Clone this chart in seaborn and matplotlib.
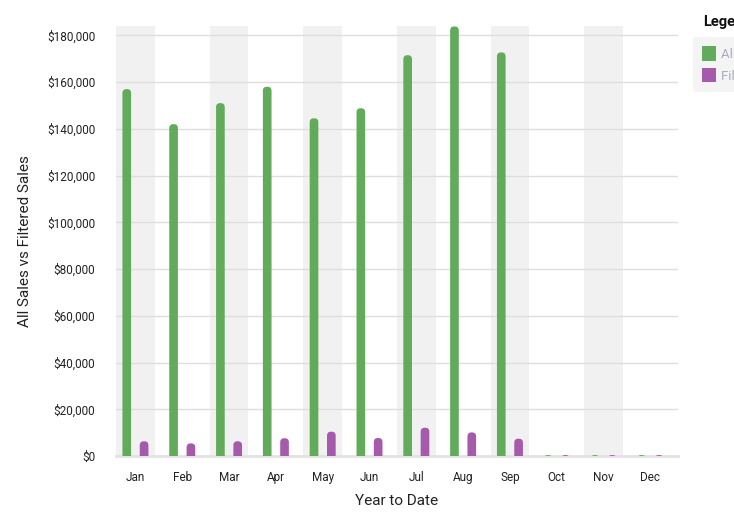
import matplotlib
matplotlib.use("Agg")
import matplotlib.pyplot as plt
import seaborn as sns
import pandas as pd
from matplotlib.patches import FancyBboxPatch, Patch
from matplotlib.ticker import FuncFormatter

months = ["Jan", "Feb", "Mar", "Apr", "May", "Jun", "Jul", "Aug", "Sep", "Oct", "Nov", "Dec"]
all_sales = [157000, 142000, 151000, 158000, 144500, 148800, 171500, 183800, 172700, 400, 400, 400]
filtered_sales = [6300, 5400, 6300, 7600, 10400, 7700, 12100, 10100, 7400, 400, 400, 400]
series_names = ["All Sales", "Filtered Sales"]
colors = ["#62ab5a", "#a55aab"]

df = pd.DataFrame({
    "Month": months * 2,
    "Sales": all_sales + filtered_sales,
    "Series": [series_names[0]] * 12 + [series_names[1]] * 12,
})

sns.set_theme(style="white")
plt.rcParams["font.family"] = ["Roboto", "DejaVu Sans"]

fig = plt.figure(figsize=(7.34, 5.12), dpi=100)
ax = fig.add_axes([116 / 734, 1 - 456 / 512, (678 - 116) / 734, (456 - 26) / 512])

sns.barplot(data=df, x="Month", y="Sales", hue="Series", palette=colors,
            width=0.74, gap=0.5, ax=ax, legend=False, saturation=1)

ax.set_xlim(-0.415, 11.59)
ax.set_ylim(0, 184000)

# rounded top bars
px_x = (11.59 + 0.415) / (678 - 116)
px_y = 184000 / (456 - 26)
bars = list(ax.patches)
for b in bars:
    x, w, h = b.get_x(), b.get_width(), b.get_height()
    fc = b.get_facecolor()
    b.remove()
    r = min(4 * px_x, w / 2)
    pad = r * (px_y / px_x)
    fp = FancyBboxPatch((x, -pad), w, h + pad,
                        boxstyle=f"round,pad=0,rounding_size={r}",
                        mutation_aspect=px_y / px_x,
                        facecolor=fc, edgecolor="none", zorder=3)
    ax.add_patch(fp)

# alternating shading
for i in range(0, 12, 2):
    ax.axvspan(i - 0.415, i + 0.415, color="#f1f1f1", zorder=0, lw=0)

ax.set_yticks(range(0, 180001, 20000))
ax.yaxis.set_major_formatter(FuncFormatter(lambda v, p: f"${int(v):,}"))
ax.grid(axis="y", color="#dedede", lw=1, zorder=1)
ax.set_axisbelow(True)
for s in ["top", "right", "left"]:
    ax.spines[s].set_visible(False)
ax.spines["bottom"].set_color("#e2e2e2")
ax.spines["bottom"].set_linewidth(2)
ax.tick_params(axis="both", length=0, labelsize=8.5, colors="#222222")
ax.tick_params(axis="y", pad=15)
ax.tick_params(axis="x", pad=11)
ax.set_xlabel("Year to Date", fontsize=11, color="#222222", labelpad=7)
ax.set_ylabel("All Sales vs Filtered Sales", fontsize=11, color="#222222", labelpad=11)

# legend
handles = [Patch(facecolor=c, edgecolor="none") for c in colors]
leg = fig.legend(handles, series_names, loc="upper left",
                 bbox_to_anchor=(693 / 734, 1 - 37 / 512), frameon=True,
                 fontsize=9.5, handlelength=1.05, handleheight=1.3,
                 handletextpad=0.35, borderpad=0.7, labelspacing=0.55,
                 borderaxespad=0)
leg.get_frame().set_facecolor("#f2f2f2")
leg.get_frame().set_edgecolor("none")
for t in leg.get_texts():
    t.set_color("#a9abc0")
fig.text(703 / 734, 1 - 22 / 512, "Legend", fontsize=10.5, fontweight="bold",
         color="#111111", va="center", ha="left")

fig.savefig("out.png", dpi=100)
